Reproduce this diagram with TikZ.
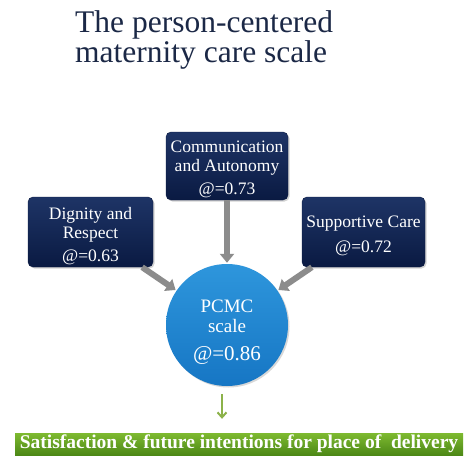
\documentclass[tikz,border=0pt]{standalone}
\usepackage{fontspec}
\setmainfont{Liberation Serif}
\usetikzlibrary{arrows.meta,shadows}
\definecolor{CTTL}{RGB}{27,40,70}
\definecolor{CNVT}{RGB}{30,52,102}
\definecolor{CNVB}{RGB}{10,26,66}
\definecolor{CBLT}{RGB}{46,150,220}
\definecolor{CBLB}{RGB}{22,118,196}
\definecolor{CGRT}{RGB}{126,186,48}
\definecolor{CGRB}{RGB}{76,136,22}
\definecolor{CARW}{RGB}{140,140,140}
\definecolor{CLIM}{RGB}{140,178,74}

\tikzset{
  facbox/.style={rounded corners=5pt,top color=CNVT,bottom color=CNVB,draw=CNVB,
    text=white,align=center,inner xsep=2pt,inner ysep=0pt,font=\fontsize{17.5}{19}\selectfont,
    drop shadow={shadow xshift=1.5pt,shadow yshift=-1.5pt,opacity=0.35}},
  scalecirc/.style={circle,top color=CBLT,bottom color=CBLB,draw=none,text=white,
    align=center,minimum size=122pt,inner sep=0pt,font=\fontsize{19}{20}\selectfont,
    drop shadow={shadow xshift=1.5pt,shadow yshift=-1.5pt,opacity=0.3}},
  feeds/.style={draw=CARW,line width=6pt,-{Triangle[length=9pt,width=14pt]},
    shorten >=1pt},
}
\newcommand{\downby}[1]{\rule{0pt}{#1}}

\begin{document}
\begin{tikzpicture}[x=1pt,y=-1pt]
  \useasboundingbox[fill=white] (0,0) rectangle (471,463);
  % title
  \node[anchor=north west,align=left,text=CTTL,inner sep=0pt,
    font=\fontsize{31.5}{30}\selectfont] (title) at (75,10) {The person-centered\\maternity care scale};
  % subscales
  \node[facbox,minimum width=125pt,minimum height=70pt] (dignity) at (90.5,232)
    {\downby{21pt}Dignity and\\Respect\\[4pt]@=0.63};
  \node[facbox,minimum width=122pt,minimum height=68pt] (commun) at (227,166)
    {\downby{19pt}Communication\\and Autonomy\\[4pt]@=0.73};
  \node[facbox,minimum width=123pt,minimum height=70pt] (support) at (363.5,232)
    {\downby{19pt}Supportive Care\\[6pt]@=0.72};
  % full scale
  \node[scalecirc] (pcmc) at (227,325)
    {\downby{27pt}PCMC\\scale\\[8pt]{\fontsize{21}{20}\selectfont @=0.86}};
  \path[feeds] (dignity) -- (pcmc);
  \path[feeds] (commun) -- (pcmc);
  \path[feeds] (support) -- (pcmc);
  % outcome
  \node[top color=CGRT,bottom color=CGRB,minimum width=448pt,minimum height=22pt,
    inner sep=0pt,text=white,font=\bfseries\fontsize{19.5}{19}\selectfont] (outcome) at (239,444)
    {Satisfaction \& future intentions for place of~~delivery};
  \draw[CLIM,line width=2pt,-{Straight Barb[length=5pt,width=9pt]},
    shorten <=8pt,shorten >=14pt] ([xshift=-5pt]pcmc.south) -- ([xshift=-5pt]pcmc.south |- outcome.north);
\end{tikzpicture}
\end{document}
